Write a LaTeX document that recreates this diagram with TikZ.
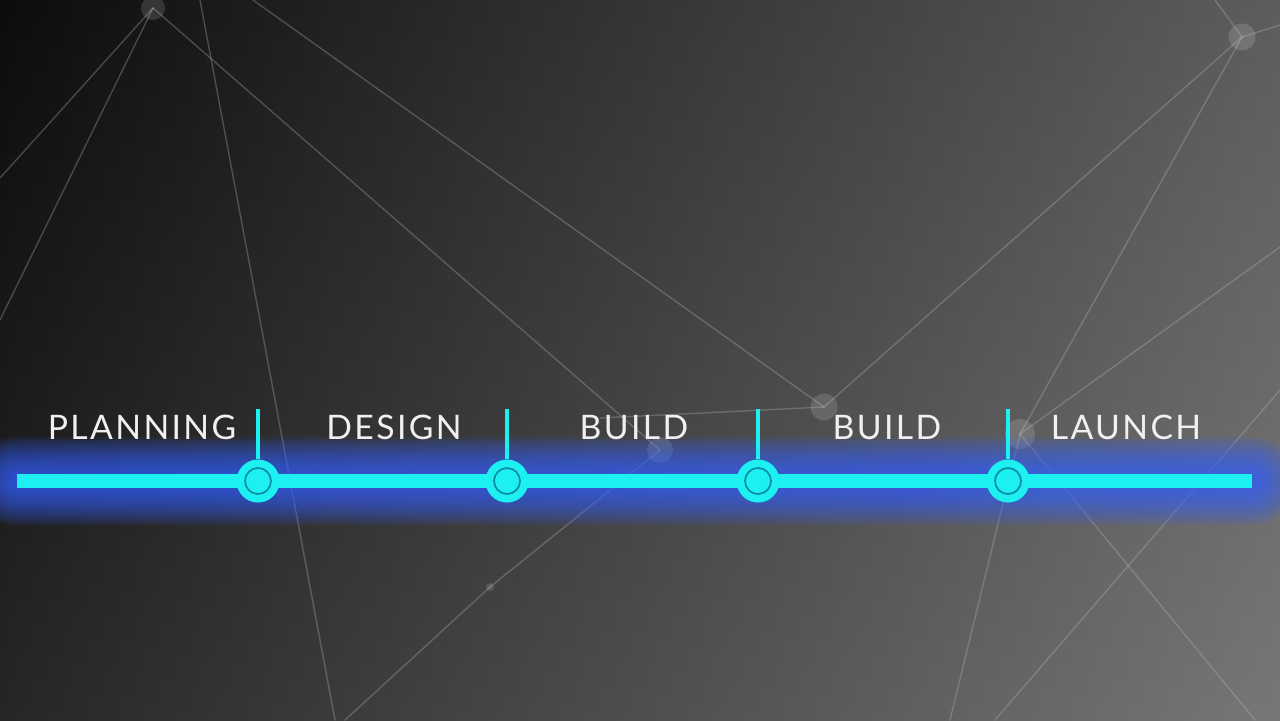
\documentclass[tikz,border=0pt]{standalone}
\usepackage{fontspec}
\setmainfont{Lato}
\newfontfamily\lblfont[LetterSpace=7]{Lato}
\usetikzlibrary{fadings}
\definecolor{bgleft}{HTML}{0E0E0E}
\definecolor{bgright}{HTML}{686868}
\definecolor{tealine}{HTML}{1CF0F0}
\definecolor{tealdark}{HTML}{0E8EA6}
\definecolor{glowblue}{HTML}{3460FF}
\definecolor{netgray}{HTML}{BEBEBE}
\begin{document}
\begin{tikzpicture}[x=0.01cm, y=-0.01cm, line join=round, line cap=round,
	net/.style={netgray, line width=0.4pt, opacity=0.3},
	blob/.style={circle, fill=white, opacity=0.14, inner sep=0pt, minimum size=#1},
	mile/.style={circle, fill=tealine, inner sep=0pt, minimum size=0.43cm,
		path picture={\draw[tealdark, line width=0.5pt] (path picture bounding box.center) circle (13);}},
	tick/.style={tealine, line width=1.3pt, line cap=butt},
	lbl/.style={anchor=base, text=white!94!black, font=\lblfont\fontsize{9.6}{11}\selectfont}]
	\def\ty{481} \def\tk{409} \def\lb{439}
	\useasboundingbox (0,0) rectangle (1280,720);
	\clip (0,0) rectangle (1280,720);
	% background
	\shade[left color=bgleft, right color=bgright] (0,0) rectangle (1280,720);
	\shade[top color=black, bottom color=white, opacity=0.1] (0,0) rectangle (1280,720);
	% network
	\coordinate (nA) at (153,8);   \coordinate (nB) at (1242,37);
	\coordinate (nC) at (824,407); \coordinate (nD) at (1020,434);
	\coordinate (nE) at (660,450); \coordinate (nF) at (490,587);
	\coordinate (e1) at (0,178);   \coordinate (e2) at (0,320);
	\coordinate (e3) at (200,0);   \coordinate (e4) at (335,720);
	\coordinate (e5) at (253,0);   \coordinate (e6) at (1215,0);
	\coordinate (e7) at (1280,25); \coordinate (e8) at (1280,247);
	\coordinate (e9) at (950,720); \coordinate (e10) at (1255,720);
	\coordinate (e11) at (1280,390); \coordinate (e12) at (995,720);
	\coordinate (e13) at (345,720); \coordinate (e14) at (600,418);
	\foreach \a/\b in {nA/e1, nA/e2, nA/nE, e3/e4, e5/nC, e6/nB, nB/e7, nB/nC, nB/nD,
		e8/nD, nD/e9, nD/e10, e11/e12, nE/nF, nF/e13, nC/e14}
		\draw[net] (\a) -- (\b);
	\node[blob=0.24cm] at (nA) {}; \node[blob=0.27cm] at (nB) {};
	\node[blob=0.27cm] at (nC) {}; \node[blob=0.3cm] at (nD) {};
	\node[blob=0.26cm] at (nE) {}; \node[blob=0.08cm] at (nF) {};
	% timeline
	\coordinate (t0) at (17,\ty); \coordinate (t1) at (1252,\ty);
	\foreach \w in {16,22,...,88}
		\draw[glowblue, line width=\w*0.2845pt, opacity=0.1] (t0) -- (t1);
	\draw[tealine, line width=4pt, line cap=butt] (t0) -- (t1);
	\foreach \i/\x in {1/258, 2/507, 3/758, 4/1008} {
		\node[mile] (m\i) at (\x,\ty) {};
		\coordinate (k\i) at (\x,\tk);
		\draw[tick] (k\i) -- (m\i.north);
	}
	\node[lbl] (planning) at (142,\lb) {PLANNING};
	\node[lbl] (design) at (394,\lb) {DESIGN};
	\node[lbl] (build1) at (634,\lb) {BUILD};
	\node[lbl] (build2) at (887,\lb) {BUILD};
	\node[lbl] (launch) at (1126,\lb) {LAUNCH};
\end{tikzpicture}
\end{document}
